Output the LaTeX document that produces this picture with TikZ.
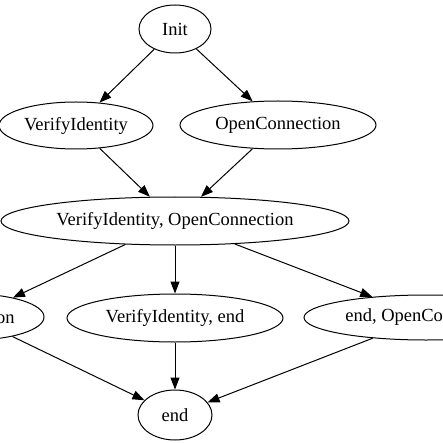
\documentclass[tikz,border=0pt]{standalone}
\usepackage{fontspec}
\setmainfont{Liberation Serif}
\usetikzlibrary{shapes.geometric,arrows.meta}
\begin{document}
\begin{tikzpicture}[x=1pt,y=-1pt,
  st/.style={draw,ellipse,line width=1pt,inner sep=0pt,font=\fontsize{18.5}{20}\selectfont},
  edge/.style={draw,line width=1pt,-{Triangle[length=12pt,width=9pt]}}]
\useasboundingbox (0,0) rectangle (443,443);
\clip (0,0) rectangle (443,443);
\node[st,minimum width=72pt,minimum height=48pt] (init) at (175,29) {Init};
\node[st,minimum width=154pt,minimum height=47pt] (vi) at (76,125.5) {VerifyIdentity};
\node[st,minimum width=196pt,minimum height=48pt] (oc) at (278,125) {OpenConnection};
\node[st,minimum width=348pt,minimum height=48pt] (vioc) at (175,221) {VerifyIdentity, OpenConnection};
\node[st,minimum width=144pt,minimum height=46pt] (l) at (-28,317) {Connection};
\node[st,minimum width=216pt,minimum height=48pt] (m) at (175,318) {VerifyIdentity, end};
\node[st,minimum width=244pt,minimum height=45pt] (r) at (426,317.5) {end, OpenConnection};
\node[st,minimum width=74pt,minimum height=50pt] (end) at (175,415) {end};
\draw[edge] (init) -- (vi);
\draw[edge] (init) -- (oc);
\draw[edge] (vi) -- (vioc);
\draw[edge] (oc) -- (vioc);
\draw[edge] (vioc) -- (l);
\draw[edge] (vioc) -- (m);
\draw[edge] (vioc) -- (r);
\draw[edge] (l) -- (end);
\draw[edge] (m) -- (end);
\draw[edge] (r) -- (end);
\end{tikzpicture}
\end{document}
